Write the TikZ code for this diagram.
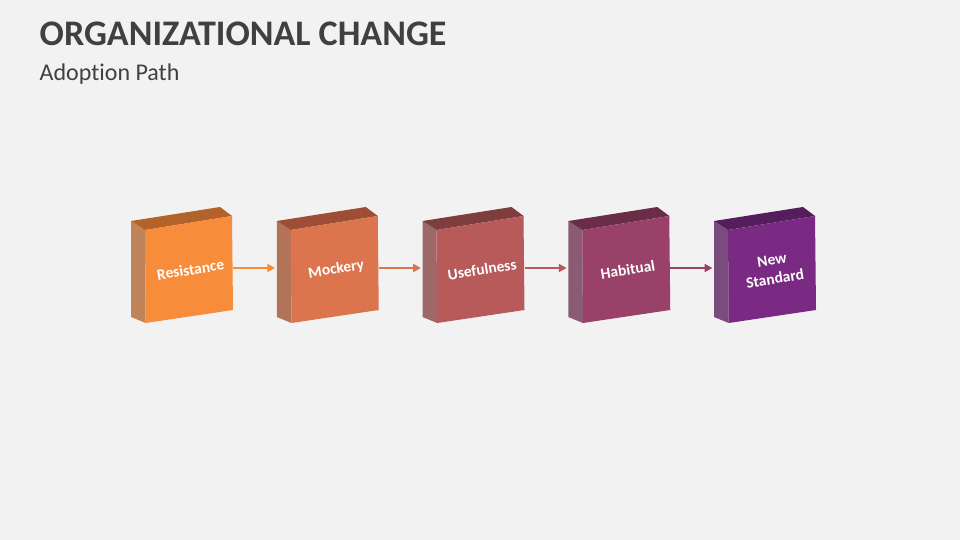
\documentclass[tikz,border=0pt]{standalone}
\usepackage{fontspec}
\setmainfont{Carlito}[Ligatures={NoCommon,NoDiscretionary}]
\usetikzlibrary{arrows.meta}
\definecolor{bg}{HTML}{F2F2F2}
\definecolor{ttl}{HTML}{404040}
\definecolor{f1}{HTML}{F78D3B}\definecolor{t1}{HTML}{B3622A}\definecolor{s1}{HTML}{C0845A}
\definecolor{f2}{HTML}{DC744E}\definecolor{t2}{HTML}{9E4E34}\definecolor{s2}{HTML}{B37358}
\definecolor{f3}{HTML}{B85A5A}\definecolor{t3}{HTML}{7F3E3E}\definecolor{s3}{HTML}{9E6868}
\definecolor{f4}{HTML}{9A4169}\definecolor{t4}{HTML}{6A2D48}\definecolor{s4}{HTML}{8A5B72}
\definecolor{f5}{HTML}{7B2A83}\definecolor{t5}{HTML}{551D5B}\definecolor{s5}{HTML}{7A4C7E}
\tikzset{
  boxlabel/.style={text=white, font=\bfseries\fontsize{15.5}{19}\selectfont, align=center, rotate=9, inner sep=0pt},
  flowarrow/.style={line width=2pt, -{Triangle[length=8pt,width=8pt]}, shorten >=1.5pt},
}
\begin{document}
\begin{tikzpicture}[x=1pt,y=-1pt]
\fill[bg] (0,0) rectangle (960,540);
\useasboundingbox (0,0) rectangle (960,540);
\node[anchor=base west, inner sep=0pt, text=ttl, font=\bfseries\fontsize{36}{42}\selectfont] (title) at (39.5,46) {ORGANIZATIONAL CHANGE};
\node[anchor=base west, inner sep=0pt, text=ttl, font=\fontsize{24}{28}\selectfont] (subtitle) at (39.5,81) {Adoption Path};
\foreach \n/\lab in {1/Resistance, 2/Mockery, 3/Usefulness, 4/Habitual, 5/{New\\Standard}}{
  \begin{scope}[xshift={(\n-1)*145.75pt}]
    \fill[s\n] (131,221) -- (145,230) -- (145.7,323) -- (131,317) -- cycle;
    \fill[t\n] (131,221) -- (220,207) -- (232,216) -- (145,230) -- cycle;
    \fill[f\n] (145,230) -- (232,216) -- (233,310) -- (145.7,323) -- cycle;
    \node[boxlabel] (box\n) at (190.5,269.5) {\lab};
    \coordinate (out\n) at (233,268);
    \coordinate (in\n) at (131,268);
  \end{scope}
}
\draw[flowarrow, f1] (out1) -- (in2);
\draw[flowarrow, f2] (out2) -- (in3);
\draw[flowarrow, f3] (out3) -- (in4);
\draw[flowarrow, f4] (out4) -- (in5);
\end{tikzpicture}
\end{document}
